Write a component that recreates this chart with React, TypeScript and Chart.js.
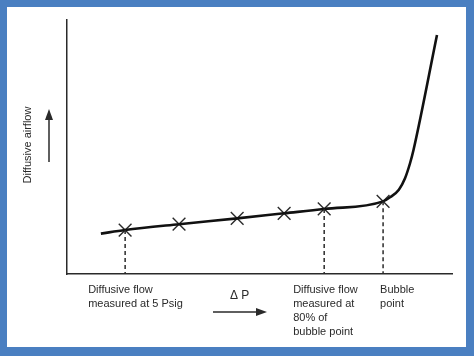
import React, { useEffect, useRef } from "react";
import { Chart, registerables } from "chart.js";

Chart.register(...registerables);

// Pressure (ΔP, arbitrary units 0–100) and diffusive airflow (arbitrary units 0–100)
const pressure = [8.8, 15.1, 29.1, 44.2, 56.4, 66.8, 82.1, 84.0, 86.2, 87.8, 89.1, 90.0, 96.1];
const airflow = [15.9, 17.3, 19.6, 21.9, 23.9, 25.6, 28.6, 30.3, 33.2, 37.7, 43.6, 48.8, 94.1];
// measurement points marked with an X
const markerIdx = [1, 2, 3, 4, 5, 6];
// points with a dashed drop line to the axis
const dropIdx = [1, 5, 6];

const yTitle = "Diffusive airflow";
const xLabels: { idx: number; dx: number; lines: string[] }[] = [
  { idx: 1, dx: -37, lines: ["Diffusive flow", "measured at 5 Psig"] },
  { idx: 5, dx: -31, lines: ["Diffusive flow", "measured at", "80% of", "bubble point"] },
  { idx: 6, dx: -3, lines: ["Bubble", "point"] },
];
const deltaLabel = "Δ P";

const INK = "#2a2a2a";
const FONT = '11px "Liberation Sans", Arial, sans-serif';

export default function App() {
  const ref = useRef<HTMLCanvasElement | null>(null);

  useEffect(() => {
    if (!ref.current) return;
    const pts = pressure.map((x, i) => ({ x, y: airflow[i] }));

    const frame = {
      id: "frame",
      beforeDraw(chart: any) {
        const { ctx, width, height } = chart;
        ctx.save();
        ctx.fillStyle = "#4a7fc1";
        ctx.fillRect(0, 0, width, height);
        ctx.fillStyle = "#ffffff";
        ctx.fillRect(7, 7, width - 15, height - 16);
        ctx.restore();
      },
    };

    const annotations = {
      id: "annotations",
      afterDraw(chart: any) {
        const { ctx, scales } = chart;
        const xs = scales.x;
        const area = chart.chartArea;
        ctx.save();
        ctx.fillStyle = INK;
        ctx.strokeStyle = INK;
        ctx.font = FONT;
        ctx.textBaseline = "middle";
        ctx.textAlign = "left";
        // x labels
        xLabels.forEach((l) => {
          const px = xs.getPixelForValue(pressure[l.idx]);
          l.lines.forEach((t, j) => {
            ctx.fillText(t, px + l.dx, area.bottom + 16 + j * 14);
          });
        });
        // delta P
        ctx.font = '12px "Liberation Sans", Arial, sans-serif';
        ctx.fillText(deltaLabel, 230, area.bottom + 22);
        // x arrow
        const ay = area.bottom + 38;
        ctx.lineWidth = 1.5;
        ctx.beginPath();
        ctx.moveTo(213, ay);
        ctx.lineTo(258, ay);
        ctx.stroke();
        ctx.beginPath();
        ctx.moveTo(267, ay);
        ctx.lineTo(256, ay - 4);
        ctx.lineTo(256, ay + 4);
        ctx.closePath();
        ctx.fill();
        // y title
        ctx.font = FONT;
        ctx.save();
        ctx.translate(28, 145);
        ctx.rotate(-Math.PI / 2);
        ctx.textAlign = "center";
        ctx.fillText(yTitle, 0, 0);
        ctx.restore();
        // y arrow
        ctx.beginPath();
        ctx.moveTo(49, 162);
        ctx.lineTo(49, 118);
        ctx.stroke();
        ctx.beginPath();
        ctx.moveTo(49, 109);
        ctx.lineTo(45, 120);
        ctx.lineTo(53, 120);
        ctx.closePath();
        ctx.fill();
        ctx.restore();
      },
    };

    const dropSets = dropIdx.map((i) => ({
      type: "line" as const,
      data: [
        { x: pressure[i], y: airflow[i] },
        { x: pressure[i], y: 0 },
      ],
      borderColor: INK,
      borderWidth: 1.5,
      borderDash: [4, 3],
      pointRadius: 0,
      fill: false,
    }));

    const chart = new Chart(ref.current, {
      type: "line",
      data: {
        datasets: [
          ...dropSets,
          {
            type: "line",
            data: pts,
            borderColor: "#111111",
            borderWidth: 2.6,
            pointRadius: 0,
            cubicInterpolationMode: "monotone",
            fill: false,
          },
          {
            type: "scatter",
            data: markerIdx.map((i) => pts[i]),
            pointStyle: "crossRot",
            pointRadius: 9,
            pointBorderWidth: 1.4,
            borderColor: INK,
            backgroundColor: INK,
            showLine: false,
          },
        ] as any,
      },
      options: {
        responsive: false,
        animation: false,
        devicePixelRatio: 1,
        layout: { padding: { left: 67, top: 20, right: 22, bottom: 82 } },
        plugins: { legend: { display: false }, tooltip: { enabled: false } },
        scales: {
          x: {
            type: "linear",
            min: 0,
            max: 100,
            grid: { display: false, drawTicks: false },
            ticks: { display: false },
            border: { display: true, color: INK, width: 1.5 },
          },
          y: {
            type: "linear",
            min: 0,
            max: 100,
            grid: { display: false, drawTicks: false },
            ticks: { display: false },
            border: { display: true, color: INK, width: 1.5 },
          },
        },
      },
      plugins: [frame, annotations],
    });
    return () => chart.destroy();
  }, []);

  return (
    <div style={{ position: "fixed", left: 0, top: 0, width: 474, height: 356 }}>
      <canvas ref={ref} width={474} height={356} style={{ display: "block" }} />
    </div>
  );
}
